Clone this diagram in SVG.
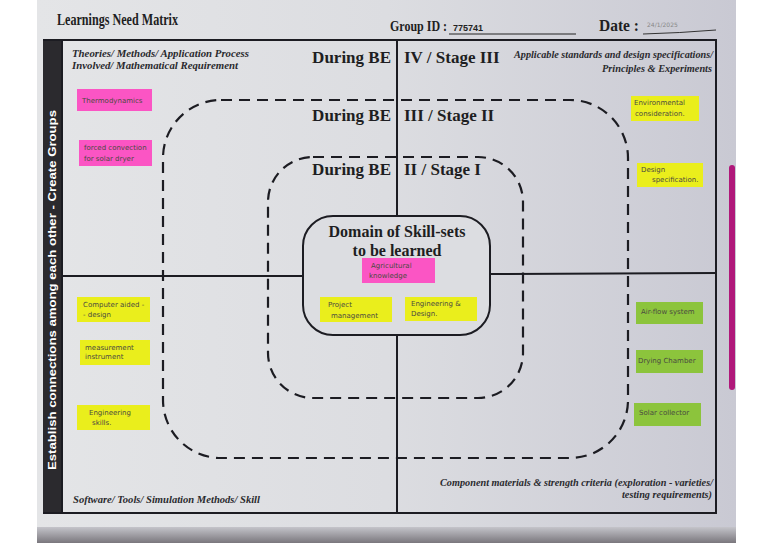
<svg xmlns="http://www.w3.org/2000/svg" width="768" height="543" viewBox="0 0 768 543">
<defs>
<linearGradient id="paper" x1="0" y1="0" x2="1" y2="0">
<stop offset="0" stop-color="#e4e5e7"/>
<stop offset="0.5" stop-color="#dcdde1"/>
<stop offset="1" stop-color="#c9c9d3"/>
</linearGradient>
<linearGradient id="floor" x1="0" y1="0" x2="0" y2="1">
<stop offset="0" stop-color="#c4c4ca"/>
<stop offset="1" stop-color="#7a777d"/>
</linearGradient>
<style>
.title{font-family:"Liberation Serif",serif;font-weight:bold;fill:#1e1e22}
.stage{font-family:"Liberation Serif",serif;font-weight:bold;font-size:17px;fill:#1e1e22}
.note{font-family:"Liberation Serif",serif;font-weight:bold;font-style:italic;font-size:10.5px;fill:#2a2a2e}
.hand{font-family:"DejaVu Sans",sans-serif;font-size:7px;fill:#4a4a40}
.line{stroke:#1c1c22;stroke-width:2;fill:none}
.dash{stroke:#1c1c22;stroke-width:2.2;fill:none;stroke-dasharray:11 7}
.pink{fill:#fb55c4}
.yellow{fill:#eaee1c}
.green{fill:#8cc43c}
</style>
</defs>
<rect width="768" height="543" fill="#ffffff"/>
<rect x="37" y="0" width="699" height="543" fill="url(#paper)"/>
<rect x="37" y="527" width="699" height="16" fill="url(#floor)"/>
<rect x="729" y="165" width="6" height="225" rx="3" fill="#b0187a"/>

<g id="header">
<text class="title" x="57" y="25" font-size="16" textLength="121" lengthAdjust="spacingAndGlyphs">Learnings Need Matrix</text>
<text class="title" transform="translate(390 31) scale(1 1.2)" x="0" y="0" font-size="12">Group ID :</text>
<text x="453" y="31" font-family="Liberation Sans, sans-serif" font-weight="bold" font-size="9" fill="#222">775741</text>
<line x1="449" y1="34" x2="576" y2="34" stroke="#222" stroke-width="1"/>
<text class="title" transform="translate(599 31) scale(1 1.1)" x="0" y="0" font-size="15.5">Date :</text>
<text x="647" y="27" font-family="DejaVu Sans, sans-serif" font-size="6" fill="#888">24/1/2025</text>
<path d="M643 34 Q680 33 716 30" stroke="#333" stroke-width="1" fill="none"/>
</g>

<g id="frame">
<rect x="43" y="39" width="18" height="475" fill="#2b2a2e"/>
<path class="line" d="M43 40 H716 V513 H43" stroke-width="2.5"/>
<line class="line" x1="62" y1="40" x2="62" y2="513"/>
<text transform="translate(56 470) rotate(-90)" font-family="Liberation Sans, sans-serif" font-weight="bold" font-size="11.5" fill="#ffffff" textLength="360" lengthAdjust="spacingAndGlyphs">Establish connections among each other - Create Groups</text>
</g>

<g id="connectors">
<line class="line" x1="397" y1="40" x2="397" y2="216"/>
<line class="line" x1="397" y1="335" x2="397" y2="513"/>
<line class="line" x1="62" y1="276" x2="303" y2="276"/>
<line class="line" x1="490" y1="274" x2="716" y2="273"/>
<rect class="dash" x="163" y="100" width="465" height="358" rx="58"/>
<rect class="dash" x="268" y="157" width="255" height="241" rx="45"/>
</g>

<g id="stage-3">
<text class="stage" x="391" y="63" text-anchor="end">During BE</text>
<text class="stage" x="404" y="63">IV / Stage III</text>
</g>
<g id="stage-2">
<text class="stage" x="391" y="121" text-anchor="end">During BE</text>
<text class="stage" x="404" y="121">III / Stage II</text>
</g>
<g id="stage-1">
<text class="stage" x="391" y="175" text-anchor="end">During BE</text>
<text class="stage" x="404" y="175">II / Stage I</text>
</g>

<g id="quadrant-labels">
<text class="note" x="72" y="57" textLength="177" lengthAdjust="spacingAndGlyphs">Theories/ Methods/ Application Process</text>
<text class="note" x="72" y="69" textLength="166" lengthAdjust="spacingAndGlyphs">Involved/ Mathematical Requirement</text>
<text class="note" x="713" y="58" text-anchor="end" font-size="9.5" textLength="199" lengthAdjust="spacingAndGlyphs">Applicable standards and design specifications/</text>
<text class="note" x="712" y="72" text-anchor="end" font-size="9.5" textLength="110" lengthAdjust="spacingAndGlyphs">Principles &amp; Experiments</text>
<text class="note" x="73" y="503" textLength="187" lengthAdjust="spacingAndGlyphs">Software/ Tools/ Simulation Methods/ Skill</text>
<text class="note" x="713" y="486" text-anchor="end" textLength="273" lengthAdjust="spacingAndGlyphs">Component materials &amp; strength criteria (exploration - varieties/</text>
<text class="note" x="712" y="498" text-anchor="end" textLength="90" lengthAdjust="spacingAndGlyphs">testing requirements)</text>
</g>

<g id="domain">
<rect x="303" y="216" width="187" height="119" rx="30" fill="#dcdde1" stroke="#1c1c22" stroke-width="2"/>
<text class="title" x="397" y="237" font-size="16" text-anchor="middle">Domain of Skill-sets</text>
<text class="title" x="397" y="256" font-size="16" text-anchor="middle">to be learned</text>
</g>

<g id="note-agricultural">
<rect class="pink" x="362" y="258" width="73" height="25"/>
<text class="hand" x="371" y="268">Agricultural</text>
<text class="hand" x="369" y="278">knowledge</text>
</g>
<g id="note-project">
<rect class="yellow" x="320" y="297" width="72" height="25"/>
<text class="hand" x="328" y="307">Project</text>
<text class="hand" x="331" y="318">management</text>
</g>
<g id="note-engineering-design">
<rect class="yellow" x="405" y="297" width="72" height="24"/>
<text class="hand" x="411" y="306">Engineering &amp;</text>
<text class="hand" x="411" y="316">Design.</text>
</g>

<g id="note-thermodynamics">
<rect class="pink" x="77" y="89" width="75" height="22"/>
<text class="hand" x="82" y="103">Thermodynamics</text>
</g>
<g id="note-forced-convection">
<rect class="pink" x="79" y="140" width="73" height="26"/>
<text class="hand" x="84" y="150">forced convection</text>
<text class="hand" x="84" y="161">for solar dryer</text>
</g>
<g id="note-environmental">
<rect class="yellow" x="631" y="96" width="68" height="25"/>
<text class="hand" x="634" y="105">Environmental</text>
<text class="hand" x="635" y="116">consideration.</text>
</g>
<g id="note-design-spec">
<rect class="yellow" x="637" y="163" width="66" height="24"/>
<text class="hand" x="641" y="172">Design</text>
<text class="hand" x="652" y="182">specification.</text>
</g>

<g id="note-cad">
<rect class="yellow" x="77" y="297" width="73" height="25"/>
<text class="hand" x="83" y="307">Computer aided -</text>
<text class="hand" x="83" y="317">- design</text>
</g>
<g id="note-measurement">
<rect class="yellow" x="80" y="340" width="70" height="25"/>
<text class="hand" x="85" y="350">measurement</text>
<text class="hand" x="85" y="359">instrument</text>
</g>
<g id="note-engineering-skills">
<rect class="yellow" x="77" y="405" width="73" height="25"/>
<text class="hand" x="89" y="415">Engineering</text>
<text class="hand" x="92" y="425">skills.</text>
</g>

<g id="note-airflow">
<rect class="green" x="636" y="302" width="67" height="22"/>
<text class="hand" x="641" y="314">Air-flow system</text>
</g>
<g id="note-drying">
<rect class="green" x="636" y="350" width="67" height="23"/>
<text class="hand" x="638" y="363">Drying Chamber</text>
</g>
<g id="note-solar">
<rect class="green" x="634" y="403" width="67" height="23"/>
<text class="hand" x="639" y="415">Solar collector</text>
</g>
</svg>
